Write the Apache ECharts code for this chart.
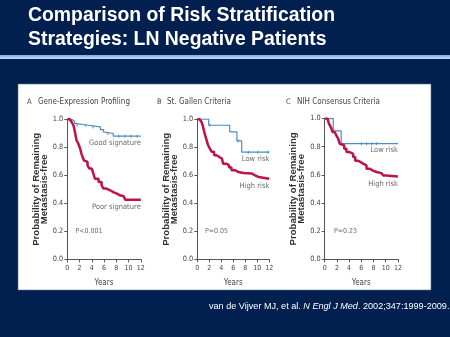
<!DOCTYPE html>
<html>
<head>
<meta charset="utf-8">
<script src="https://cdn.jsdelivr.net/npm/echarts@6/dist/echarts.min.js"></script>
<style>
  html, body { margin: 0; padding: 0; background: #012050; }
  #chart { width: 450px; height: 337px; }
</style>
</head>
<body>
<div id="chart"></div>
<script>
// Axis ticks shared by the three survival panels
const xTicks = [0, 2, 4, 6, 8, 10, 12];
const yTicks = [0.0, 0.2, 0.4, 0.6, 0.8, 1.0];

// Panel A: gene-expression profiling (years, probability metastasis-free)
const gepGoodT = [0, 0.7, 1.2, 1.4, 3.4, 5.4, 5.9, 6.2, 7.5, 12];
const gepGoodS = [1, 0.986, 0.97, 0.957, 0.945, 0.926, 0.91, 0.898, 0.879, 0.879];
const gepGoodCensor = [1.6, 3.0, 4.2, 6.6, 8.4, 9.4, 10.4, 11.4];
const gepPoorT = [0, 0.4, 0.7, 1.0, 1.2, 1.35, 1.5, 1.8, 2.1, 2.3, 2.5, 2.7, 3.0, 3.3, 3.6, 4.0, 4.25, 4.5, 5.1, 5.6, 5.9, 6.4, 7.0, 7.5, 8.1, 8.6, 9.2, 9.45, 12];
const gepPoorS = [1, 0.993, 0.98, 0.957, 0.92, 0.886, 0.85, 0.826, 0.79, 0.755, 0.73, 0.707, 0.695, 0.67, 0.648, 0.636, 0.612, 0.576, 0.552, 0.529, 0.505, 0.493, 0.48, 0.469, 0.457, 0.45, 0.44, 0.426, 0.426];

// Panel B: St. Gallen criteria
const stgLowT = [0, 1.9, 5.4, 6.6, 7.4, 12];
const stgLowS = [1, 0.957, 0.91, 0.845, 0.765, 0.765];
const stgLowCensor = [2.1, 6.8, 8.5, 10.1, 11.8];
const stgHighT = [0, 0.4, 0.7, 0.9, 1.1, 1.3, 1.55, 1.8, 2.1, 2.4, 2.8, 3.2, 3.7, 4.1, 4.3, 4.9, 5.3, 5.7, 6.3, 6.8, 7.7, 9.1, 9.6, 10.2, 12];
const stgHighS = [1, 0.99, 0.98, 0.957, 0.92, 0.886, 0.85, 0.814, 0.79, 0.767, 0.743, 0.73, 0.72, 0.707, 0.683, 0.67, 0.655, 0.636, 0.624, 0.617, 0.612, 0.6, 0.588, 0.576, 0.576];

// Panel C: NIH consensus criteria
const nihLowT = [0, 1.4, 2.7, 12];
const nihLowS = [1, 0.912, 0.822, 0.822];
const nihLowCensor = [6.0, 6.85, 7.7, 8.5];
const nihHighT = [0, 0.45, 0.7, 1.0, 1.1, 1.26, 1.64, 1.9, 2.2, 2.47, 2.74, 3.2, 3.56, 4.1, 4.66, 5.0, 5.5, 5.9, 6.3, 6.85, 7.4, 7.9, 8.5, 9.3, 9.6, 10.1, 12];
const nihHighS = [1, 0.99, 0.964, 0.95, 0.93, 0.905, 0.893, 0.88, 0.857, 0.82, 0.81, 0.786, 0.762, 0.75, 0.726, 0.70, 0.69, 0.68, 0.667, 0.643, 0.63, 0.62, 0.612, 0.607, 0.595, 0.588, 0.588];

// Panel headings, curve names and log-rank P values
const panelLetters = ['A', 'B', 'C'];
const panelTitles = ['Gene-Expression Profiling', 'St. Gallen Criteria', 'NIH Consensus Criteria'];
const lowNames = ['Good signature', 'Low risk', 'Low risk'];
const highNames = ['Poor signature', 'High risk', 'High risk'];
const pValues = ['P<0.001', 'P=0.05', 'P=0.23'];
const pAt = [[3.55, 0.2], [3.2, 0.2], [3.4, 0.2]];

const RED = '#bf114b';
const BLUE = '#4a8cc6';
const NARROW = '"Liberation Sans Narrow", "Arial Narrow", "DejaVu Sans Condensed", sans-serif';
const SANS = '"Liberation Sans", Arial, sans-serif';

const panels = [
  { low: [gepGoodT, gepGoodS, gepGoodCensor], high: [gepPoorT, gepPoorS] },
  { low: [stgLowT, stgLowS, stgLowCensor], high: [stgHighT, stgHighS] },
  { low: [nihLowT, nihLowS, nihLowCensor], high: [nihHighT, nihHighS] }
];

const grids = [
  { left: 67.3, top: 119.2, width: 73.5, height: 140.2 },
  { left: 197.3, top: 119.2, width: 72, height: 140.2 },
  { left: 324.7, top: 118.6, width: 73.2, height: 140.6 }
];

function pairs(t, s) { return t.map((v, i) => [v, s[i]]); }
function survAt(t, s, x) {
  let v = s[0];
  for (let i = 0; i < t.length; i++) if (t[i] <= x) v = s[i];
  return v;
}

const xAxes = [], yAxes = [], series = [];
panels.forEach((p, k) => {
  xAxes.push({
    gridIndex: k, type: 'value',
    min: xTicks[0], max: xTicks[xTicks.length - 1], interval: xTicks[1] - xTicks[0],
    name: 'Years', nameLocation: 'middle', nameGap: 20,
    nameTextStyle: { color: '#444', fontSize: 8, fontFamily: NARROW },
    axisLine: { show: true, lineStyle: { color: '#555', width: 1 } },
    axisTick: { show: true, length: 3, lineStyle: { color: '#555' } },
    axisLabel: { color: '#444', fontSize: 7, fontFamily: NARROW, margin: 5 },
    splitLine: { show: false }
  });
  yAxes.push({
    gridIndex: k, type: 'value',
    min: yTicks[0], max: yTicks[yTicks.length - 1], interval: yTicks[1] - yTicks[0],
    name: 'Probability of Remaining\nMetastasis-free', nameLocation: 'middle', nameRotate: 90, nameGap: 10,
    nameTextStyle: { color: '#333', fontSize: 9.6, fontWeight: 'bold', lineHeight: 8, fontFamily: SANS },
    axisLine: { show: true, lineStyle: { color: '#555', width: 1 } },
    axisTick: { show: true, length: 3, lineStyle: { color: '#555' } },
    axisLabel: { color: '#444', fontSize: 7.3, fontFamily: NARROW, margin: 4, formatter: v => v.toFixed(1) },
    splitLine: { show: false }
  });

  const [lt, ls, lc] = p.low;
  const [ht, hs] = p.high;

  // low-risk / good-signature curve
  series.push({
    type: 'line', xAxisIndex: k, yAxisIndex: k, step: 'end', showSymbol: false, silent: true,
    data: pairs(lt, ls), lineStyle: { color: BLUE, width: 1.2 }, z: 3
  });
  // censor ticks on the low-risk curve
  series.push({
    type: 'scatter', xAxisIndex: k, yAxisIndex: k, silent: true,
    symbol: 'rect', symbolSize: [1.2, 3], itemStyle: { color: BLUE },
    data: lc.map(x => [x, survAt(lt, ls, x)]), z: 3
  });
  // high-risk / poor-signature curve
  series.push({
    type: 'line', xAxisIndex: k, yAxisIndex: k, step: 'end', showSymbol: false, silent: true,
    data: pairs(ht, hs), lineStyle: { color: RED, width: 2.5 }, z: 4
  });
  // curve names under the line ends
  series.push({
    type: 'scatter', xAxisIndex: k, yAxisIndex: k, silent: true,
    symbolSize: 1, itemStyle: { color: 'rgba(0,0,0,0)' },
    data: [
      { value: [lt[lt.length - 1], ls[ls.length - 1]], label: { formatter: lowNames[k], distance: 2 } },
      { value: [ht[ht.length - 1], hs[hs.length - 1]], label: { formatter: highNames[k], distance: 3 } }
    ],
    label: { show: true, position: 'bottom', align: 'right', color: '#444', fontSize: 7.5, fontFamily: NARROW },
    z: 5
  });
  // P value
  series.push({
    type: 'scatter', xAxisIndex: k, yAxisIndex: k, silent: true,
    symbolSize: 1, itemStyle: { color: 'rgba(0,0,0,0)' },
    data: [pAt[k]],
    label: { show: true, position: 'inside', formatter: pValues[k], color: '#444', fontSize: 7, fontFamily: NARROW },
    z: 5
  });
});

const headX = [[27, 38], [157, 167], [286, 297]];
const graphic = [
  { type: 'rect', shape: { x: 0, y: 55, width: 450, height: 4 }, silent: true,
    style: { fill: new echarts.graphic.LinearGradient(0, 0, 0, 1, [
      { offset: 0, color: '#7eaee2' }, { offset: 1, color: '#c6ddf6' }]) } },
  { type: 'text', silent: true, style: { x: 28, y: 15.5, text: 'Comparison of Risk Stratification',
    fill: '#ffffff', font: 'bold 19.4px "Liberation Sans", Arial, sans-serif', verticalAlign: 'middle' } },
  { type: 'text', silent: true, style: { x: 28, y: 39.5, text: 'Strategies: LN Negative Patients',
    fill: '#ffffff', font: 'bold 19.4px "Liberation Sans", Arial, sans-serif', verticalAlign: 'middle' } },
  { type: 'rect', shape: { x: 18, y: 84, width: 413, height: 206 }, silent: true, z: -1,
    style: { fill: '#ffffff', stroke: '#5a6d8a', lineWidth: 0.6 } },
  { type: 'text', silent: true, style: { x: 209, y: 306,
    text: '{r|van de Vijver MJ, et al. }{i|N Engl J Med}{r|. 2002;347:1999-2009.}',
    verticalAlign: 'middle',
    rich: {
      r: { fill: '#ffffff', fontSize: 9.1, fontFamily: SANS },
      i: { fill: '#ffffff', fontSize: 9.1, fontFamily: SANS, fontStyle: 'italic' }
    } } }
];
panelLetters.forEach((L, k) => {
  graphic.push({ type: 'text', silent: true, style: { x: headX[k][0], y: 102, text: L,
    fill: '#444', font: '7.5px ' + NARROW, verticalAlign: 'middle' } });
  graphic.push({ type: 'text', silent: true, style: { x: headX[k][1], y: 102, text: panelTitles[k],
    fill: '#444', font: '8px ' + NARROW, verticalAlign: 'middle' } });
});

const chart = echarts.init(document.getElementById('chart'), null, { renderer: 'canvas' });
chart.setOption({
  backgroundColor: '#012050',
  animation: false,
  grid: grids,
  xAxis: xAxes,
  yAxis: yAxes,
  series: series,
  graphic: graphic
});
</script>
</body>
</html>
